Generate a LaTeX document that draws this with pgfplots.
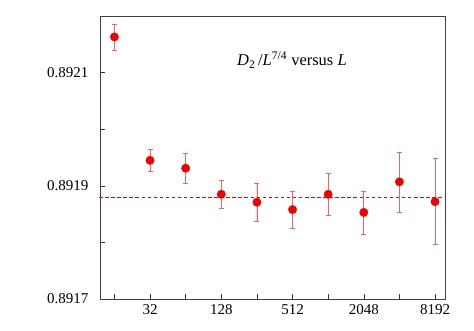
\documentclass[border=0pt]{standalone}
\usepackage{pgfplots}
\pgfplotsset{compat=1.18}
\usepackage{fontspec}
\setmainfont{Liberation Serif}
\definecolor{ptred}{RGB}{240,0,0}
\definecolor{errred}{RGB}{240,100,100}
\begin{document}
\begin{tikzpicture}
\begin{axis}[
  name=ax,
  scale only axis, width=345bp, height=283bp,
  xmin=3.595, xmax=13.28,
  ymin=0.8917, ymax=0.8922,
  xtick={5,7,9,11,13},
  xticklabels={32,128,512,2048,8192},
  minor xtick={4,6,8,10,12},
  ytick={0.8917,0.8919,0.8921},
  yticklabels={0.8917,0.8919,0.8921},
  minor ytick={0.8918,0.8920},
  /pgf/number format/assume math mode=true,
  tick align=inside,
  xtick pos=bottom, ytick pos=left,
  major tick length=5bp, minor tick length=5bp,
  tick style={black!80, line width=0.5pt},
  axis line style={black!75, line width=0.9pt},
  ticklabel style={font=\fontsize{15bp}{17bp}\selectfont},
  xticklabel style={yshift=-2bp},
  yticklabel style={xshift=-8bp},
  clip=false,
]
% horizontal dashed reference line at 0.89188, drawn as red dashes
\addplot[only marks, mark=-, mark size=1.75pt, mark options={draw=ptred, line width=0.7pt}] table[row sep=\\] {
x y\\
3.62 0.89188\\ 3.79 0.89188\\ 3.96 0.89188\\ 4.13 0.89188\\ 4.30 0.89188\\ 4.47 0.89188\\
4.64 0.89188\\ 4.81 0.89188\\ 4.98 0.89188\\ 5.15 0.89188\\ 5.32 0.89188\\ 5.49 0.89188\\
5.66 0.89188\\ 5.83 0.89188\\ 6.00 0.89188\\ 6.17 0.89188\\ 6.34 0.89188\\ 6.51 0.89188\\
6.68 0.89188\\ 6.85 0.89188\\ 7.02 0.89188\\ 7.19 0.89188\\ 7.36 0.89188\\ 7.53 0.89188\\
7.70 0.89188\\ 7.87 0.89188\\ 8.04 0.89188\\ 8.21 0.89188\\ 8.38 0.89188\\ 8.55 0.89188\\
8.72 0.89188\\ 8.89 0.89188\\ 9.06 0.89188\\ 9.23 0.89188\\ 9.40 0.89188\\ 9.57 0.89188\\
9.74 0.89188\\ 9.91 0.89188\\ 10.08 0.89188\\ 10.25 0.89188\\ 10.42 0.89188\\ 10.59 0.89188\\
10.76 0.89188\\ 10.93 0.89188\\ 11.10 0.89188\\ 11.27 0.89188\\ 11.44 0.89188\\ 11.61 0.89188\\
11.78 0.89188\\ 11.95 0.89188\\ 12.12 0.89188\\ 12.29 0.89188\\ 12.46 0.89188\\ 12.63 0.89188\\
12.80 0.89188\\ 12.97 0.89188\\ 13.14 0.89188\\
};
\addplot[only marks, mark=*, mark size=4.2bp, draw=ptred, fill=ptred, mark options={fill=ptred, draw=ptred},
  error bars/.cd, y dir=both, y explicit,
  error bar style={draw=errred, line width=0.6pt},
  error mark options={rotate=90, mark size=2.5bp, draw=errred, line width=0.6pt}]
  coordinates {
  (4,0.892163) +- (0,0.000023)
  (5,0.891945) +- (0,0.000020)
  (6,0.891931) +- (0,0.000026)
  (7,0.891885) +- (0,0.000025)
  (8,0.891871) +- (0,0.000034)
  (9,0.891858) +- (0,0.000033)
  (10,0.891885) +- (0,0.000037)
  (11,0.891853) +- (0,0.000038)
  (12,0.891907) +- (0,0.000053)
  (13,0.891872) +- (0,0.000076)
  };
\node[anchor=west, inner sep=0pt, font=\fontsize{16.5bp}{18bp}\selectfont] at (axis cs:7.44,0.892122) {\textit{D}\textsubscript{2}\,/\textit{L}\textsuperscript{7/4} versus \textit{L}};
\end{axis}
\pgfresetboundingbox
\path (ax.south west) ++(-100bp,-32bp) coordinate (bl);
\path (ax.north east) ++(29bp,16bp) coordinate (tr);
\path[use as bounding box] (bl) rectangle (tr);
\end{tikzpicture}
\end{document}
